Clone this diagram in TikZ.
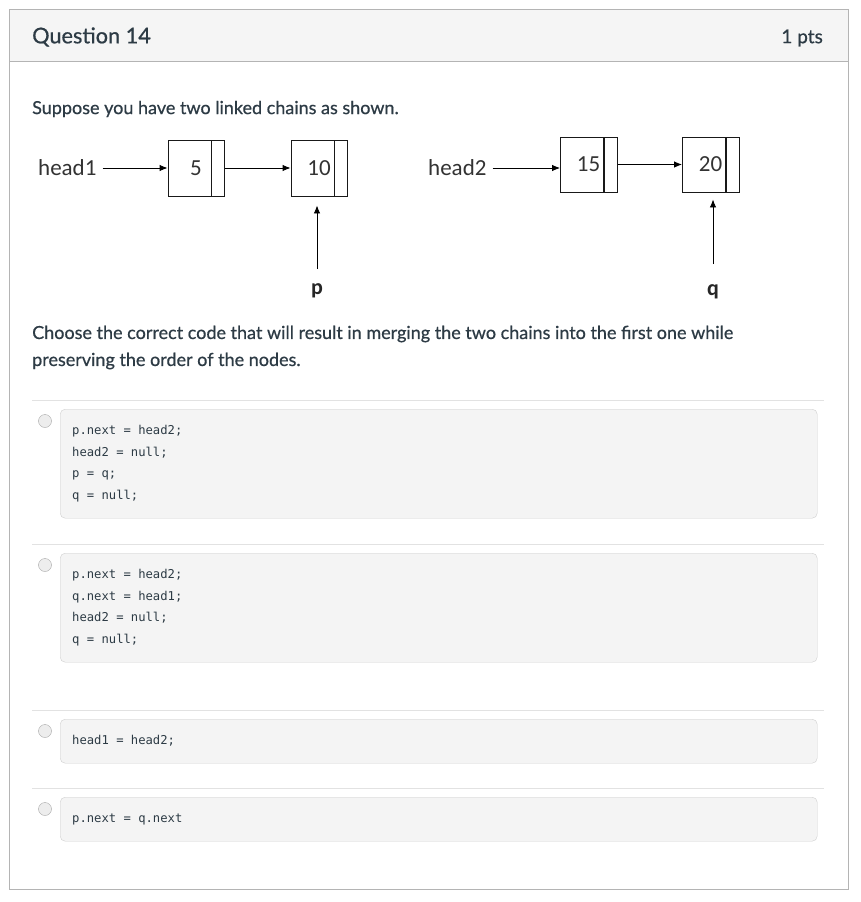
\documentclass[tikz,border=0pt]{standalone}
\usepackage{fontspec}
\setmainfont{Lato}
\newfontfamily\qfont{Lato}[FakeBold=0.6]
\newfontfamily\diagfont{Carlito}
\newfontfamily\codefont{DejaVu Sans Mono}
\usetikzlibrary{arrows.meta,positioning}

\definecolor{inktext}{HTML}{2D3B45}
\definecolor{framegray}{HTML}{B4B4B4}
\definecolor{headfill}{HTML}{F5F5F5}
\definecolor{sepgray}{HTML}{E2E2E2}
\definecolor{codefill}{HTML}{F4F4F4}
\definecolor{codeline}{HTML}{CFCFCF}

\begin{document}
\begin{tikzpicture}[x=1pt,y=-1pt,
  every node/.style={text=inktext},
  datacell/.style={draw=black!90,line width=0.9pt,minimum width=43,minimum height=56,inner sep=0,
    font=\diagfont\fontsize{23pt}{26pt}\selectfont,text=black!80,execute at begin node=\hspace*{13pt}},
  ptrcell/.style={draw=black!90,line width=0.9pt,minimum width=13,minimum height=56,inner sep=0},
  headlabel/.style={anchor=west,inner xsep=6pt,font=\diagfont\fontsize{23pt}{26pt}\selectfont,text=black!80},
  pointer/.style={anchor=north,inner ysep=14pt,font=\diagfont\bfseries\fontsize{22pt}{26pt}\selectfont,text=black!85},
  link/.style={-{Latex[length=8pt,width=6.5pt]},line width=0.9pt},
  radio/.style={circle,draw=black!35,fill=black!7,minimum size=13,inner sep=0},
  codebox/.style={draw=codeline,fill=codefill,rounded corners=5pt,minimum width=757,anchor=north west},
  code/.style={anchor=west,align=left,inner sep=0,font=\codefont\fontsize{12.2pt}{21.7pt}\selectfont,text=inktext}]
\fill [white] (0, 0) rectangle (860, 902);

% frame and header
\draw [framegray, fill=white] (9, 9) rectangle (848, 889);
\draw [framegray, fill=headfill] (9, 9) rectangle (848, 61);
\node (title) at (32, 37) [anchor=west,inner sep=0,font=\qfont\fontsize{21.7pt}{25pt}\selectfont] {Question 14};
\node (pts) at (823, 38) [anchor=east,inner sep=0,font=\qfont\fontsize{19pt}{22pt}\selectfont] {1 pts};

\node (intro) at (32, 109) [anchor=west,inner sep=0,font=\qfont\fontsize{18pt}{27pt}\selectfont] {Suppose you have two linked chains as shown.};

% first chain
\node (n5) at (189.5, 168) [datacell] {5};
\node (n5p) [ptrcell,right=0pt of n5] {};
\node (n10) at (312.5, 168) [datacell] {10};
\node (n10p) [ptrcell,right=0pt of n10] {};
\node (head1) at (32, 168) [headlabel] {head1};
\node (p) at (317, 269) [pointer] {p};
\draw [link] (head1.east) -- (n5.west);
\draw [link] (n5p.east) -- (n10.west);
\draw [link, shorten >=9pt] (p.north) -- (p.north |- n10.south);

% second chain
\node (n15) at (582, 164.5) [datacell,minimum height=55] {15};
\node (n15p) [ptrcell,minimum height=55,right=0pt of n15] {};
\node (n20) at (704, 164.5) [datacell,minimum height=55] {20};
\node (n20p) [ptrcell,minimum height=55,right=0pt of n20] {};
\node (head2) at (422, 168) [headlabel] {head2};
\node (q) at (713, 264) [pointer,inner ysep=20pt] {q};
\draw [link] (head2.east) -- (head2.east -| n15.west);
\draw [link] (n15p.east) -- (n20.west);
\draw [link, shorten >=7pt] (q.north) -- (q.north |- n20.south);

\node (task) at (32, 347.5) [anchor=west,align=left,inner sep=0,font=\qfont\fontsize{18pt}{27pt}\selectfont]
  {Choose the correct code that will result in merging the two chains into the first one while\\preserving the order of the nodes.};

% answers
\draw [sepgray, line width=1pt] (32, 400) -- (824, 400);
\node (r1) at (45, 421) [radio] {};
\node (c1) at (60, 409) [codebox,minimum height=109] {};
\node (t1) at ([xshift=12pt]c1.west) [code] {p.next = head2;\\head2 = null;\\p = q;\\q = null;};

\draw [sepgray, line width=1pt] (32, 544) -- (824, 544);
\node (r2) at (45, 565) [radio] {};
\node (c2) at (60, 553) [codebox,minimum height=109] {};
\node (t2) at ([xshift=12pt]c2.west) [code] {p.next = head2;\\q.next = head1;\\head2 = null;\\q = null;};

\draw [sepgray, line width=1pt] (32, 710) -- (824, 710);
\node (r3) at (45, 731) [radio] {};
\node (c3) at (60, 719) [codebox,minimum height=44] {};
\node (t3) at ([xshift=12pt]c3.west) [code] {head1 = head2;};

\draw [sepgray, line width=1pt] (32, 788) -- (824, 788);
\node (r4) at (45, 809) [radio] {};
\node (c4) at (60, 797) [codebox,minimum height=44] {};
\node (t4) at ([xshift=12pt]c4.west) [code] {p.next = q.next};
\end{tikzpicture}
\end{document}
